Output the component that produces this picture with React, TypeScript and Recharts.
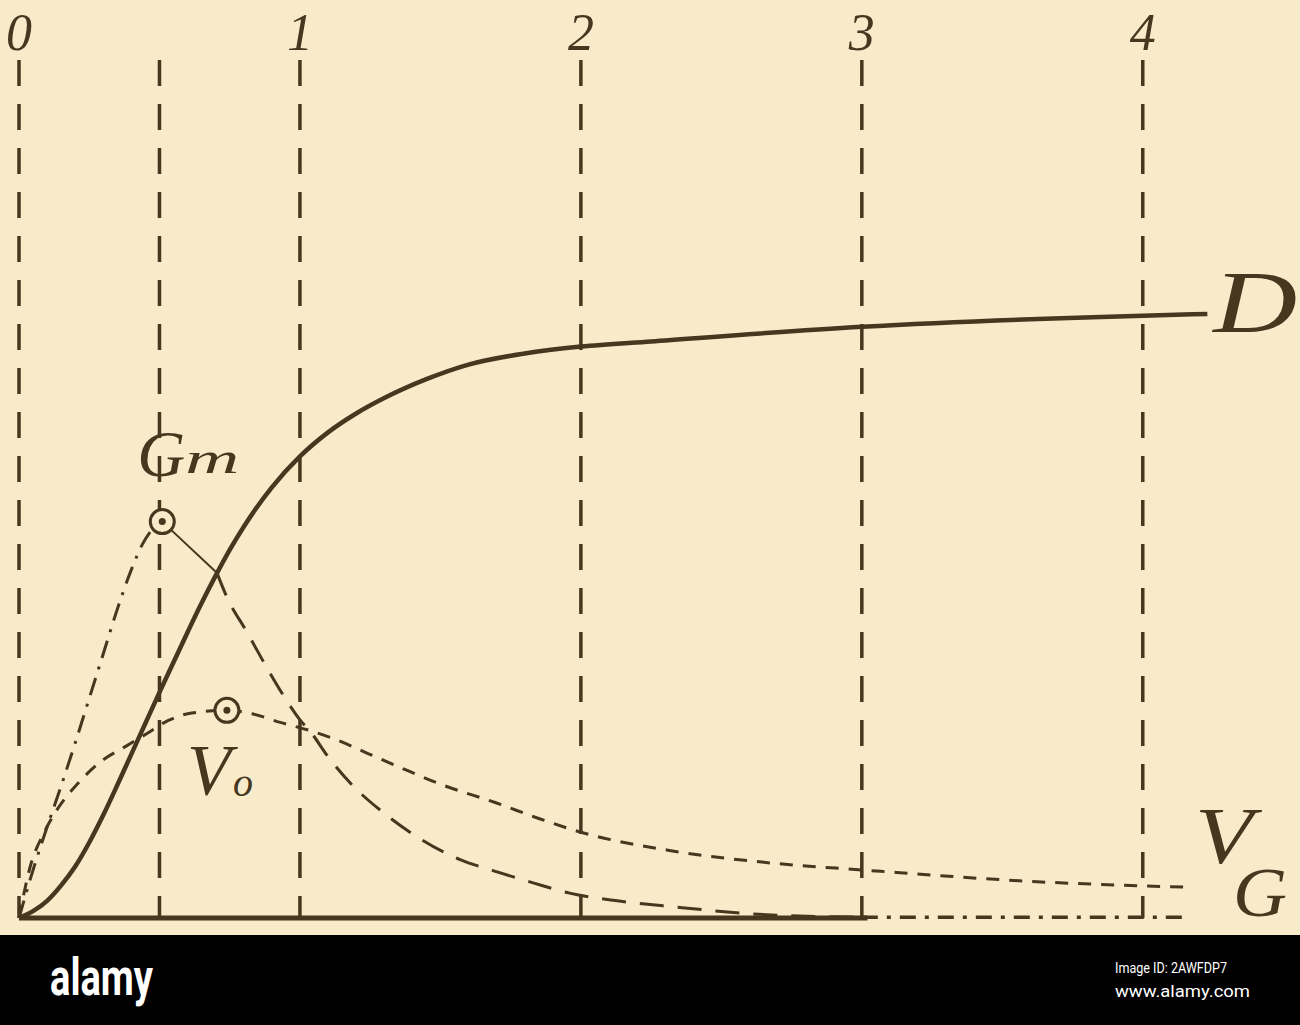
import { LineChart, Line, XAxis, YAxis, ReferenceLine, ReferenceDot } from "recharts";

const INK = "#46371f";
const PAPER = "#f8ebca";
const SERIF = "'Liberation Serif', 'DejaVu Serif', serif";

// numbered verticals along the top, plus the unlabelled one at 0.5
const tickValues = [0, 1, 2, 3, 4];
const tickLabels = ["0", "1", "2", "3", "4"];
const verticalsX = [0, 0.5, 1, 2, 3, 4];

// D — solid curve
const dCurve = [
  { x: 0, y: 0 }, { x: 0.05, y: 0.8 }, { x: 0.1, y: 2.0 }, { x: 0.15, y: 3.8 },
  { x: 0.2, y: 6.0 }, { x: 0.25, y: 8.8 }, { x: 0.3, y: 12.0 }, { x: 0.35, y: 15.5 },
  { x: 0.4, y: 19.1 }, { x: 0.45, y: 22.7 }, { x: 0.5, y: 26.3 }, { x: 0.55, y: 29.8 },
  { x: 0.6, y: 33.3 }, { x: 0.65, y: 36.7 }, { x: 0.7, y: 39.9 }, { x: 0.75, y: 42.9 },
  { x: 0.8, y: 45.6 }, { x: 0.9, y: 50.2 }, { x: 1.0, y: 53.8 }, { x: 1.1, y: 56.6 },
  { x: 1.2, y: 58.8 }, { x: 1.3, y: 60.6 }, { x: 1.45, y: 62.8 }, { x: 1.6, y: 64.5 },
  { x: 1.8, y: 65.8 }, { x: 2.0, y: 66.6 }, { x: 2.25, y: 67.2 }, { x: 3.0, y: 68.9 },
  { x: 4.0, y: 70.2 }, { x: 4.23, y: 70.4 },
];

// G — rising part (dash-dot) up to the maximum Gm
const gRise = [
  { x: 0, y: 0 }, { x: 0.05, y: 5.6 }, { x: 0.1, y: 10.6 }, { x: 0.15, y: 15.4 },
  { x: 0.2, y: 20.4 }, { x: 0.25, y: 25.6 }, { x: 0.3, y: 30.8 }, { x: 0.35, y: 36.0 },
  { x: 0.4, y: 40.6 }, { x: 0.44, y: 43.6 }, { x: 0.48, y: 45.5 }, { x: 0.51, y: 46.2 },
];
// thin stroke from Gm down to the D curve
const gLink = [{ x: 0.51, y: 46.2 }, { x: 0.705, y: 40.2 }];
// G — falling part (long dashes)
const gFall = [
  { x: 0.705, y: 40.2 }, { x: 0.74, y: 37.4 }, { x: 0.81, y: 33.4 }, { x: 0.88, y: 29.3 },
  { x: 0.94, y: 26.0 }, { x: 1.0, y: 23.1 }, { x: 1.04, y: 21.6 }, { x: 1.1, y: 18.8 },
  { x: 1.18, y: 15.7 }, { x: 1.3, y: 12.2 }, { x: 1.42, y: 9.4 }, { x: 1.57, y: 6.8 },
  { x: 1.69, y: 5.5 }, { x: 1.83, y: 4.1 }, { x: 1.96, y: 2.9 }, { x: 2.13, y: 2.0 },
  { x: 2.33, y: 1.3 }, { x: 2.68, y: 0.35 }, { x: 3.0, y: 0.1 },
];
// G — tail along the axis (dash-dot)
const gTail = [{ x: 3.0, y: 0.1 }, { x: 4.14, y: 0.1 }];

// V — short dashes, maximum Vo
const vCurve = [
  { x: 0, y: 0 }, { x: 0.04, y: 6.0 }, { x: 0.09, y: 10.0 }, { x: 0.135, y: 12.6 },
  { x: 0.21, y: 15.7 }, { x: 0.29, y: 18.2 }, { x: 0.38, y: 20.0 }, { x: 0.46, y: 21.6 },
  { x: 0.53, y: 23.0 }, { x: 0.6, y: 23.8 }, { x: 0.74, y: 24.2 }, { x: 0.83, y: 23.8 },
  { x: 0.93, y: 22.8 }, { x: 1.04, y: 21.8 }, { x: 1.12, y: 20.9 }, { x: 1.24, y: 19.2 },
  { x: 1.36, y: 17.5 }, { x: 1.5, y: 15.6 }, { x: 1.7, y: 13.4 }, { x: 1.85, y: 11.6 },
  { x: 2.0, y: 10.0 }, { x: 2.31, y: 7.9 }, { x: 2.68, y: 6.4 }, { x: 3.0, y: 5.6 },
  { x: 3.64, y: 4.2 }, { x: 4.15, y: 3.6 },
];

const gMax = gRise[gRise.length - 1];
const vMax = vCurve[10];
const dEnd = dCurve[dCurve.length - 1];
const vEnd = vCurve[vCurve.length - 1];
const gEnd = gTail[gTail.length - 1];

function TopTick({ x, y, payload }: any) {
  const i = tickValues.indexOf(payload.value);
  return (
    <text x={x} y={y} dy={-2} textAnchor="middle" fill={INK}
      fontFamily={SERIF} fontStyle="italic" fontSize={52}>
      {tickLabels[i]}
    </text>
  );
}

// open circle with a centre dot, and its label
function marker(label: "Gm" | "Vo") {
  return ({ cx, cy }: any) => (
    <g>
      <circle cx={cx} cy={cy} r={12} fill={PAPER} stroke={INK} strokeWidth={3} />
      <circle cx={cx} cy={cy} r={3.5} fill={INK} />
      {label === "Gm" ? (
        <g fill={INK} fontFamily={SERIF} fontStyle="italic">
          <text x={cx - 25} y={cy - 46} fontSize={66} textLength={48}
            lengthAdjust="spacingAndGlyphs">G</text>
          <text x={cx + 23} y={cy - 49} fontSize={44} textLength={54}
            lengthAdjust="spacingAndGlyphs">m</text>
        </g>
      ) : (
        <g fill={INK} fontFamily={SERIF} fontStyle="italic">
          <text x={cx - 40} y={cy + 84} fontSize={72} textLength={44}
            lengthAdjust="spacingAndGlyphs">V</text>
          <text x={cx + 6} y={cy + 86} fontSize={40}>o</text>
        </g>
      )}
    </g>
  );
}

function endLabel(text: string, dx: number, dy: number, size: number, width: number) {
  return ({ cx, cy }: any) => (
    <text x={cx + dx} y={cy + dy} fill={INK} fontFamily={SERIF} fontStyle="italic"
      fontSize={size} textLength={width} lengthAdjust="spacingAndGlyphs">{text}</text>
  );
}

export default function App() {
  return (
    <div style={{ width: 1300, height: 1025, background: PAPER }}>
      <style>{"body{margin:0}"}</style>
      <LineChart width={1300} height={935} margin={{ top: 10, right: 87, bottom: 17, left: 19 }}>
        <XAxis dataKey="x" type="number" orientation="top" domain={[0, 4.25]}
          ticks={tickValues} axisLine={false} tickLine={false} height={50}
          tick={<TopTick />} allowDuplicatedCategory={false} />
        <YAxis type="number" domain={[0, 100]} hide />

        {verticalsX.map((v) => (
          <ReferenceLine key={v} x={v} stroke={INK} strokeWidth={3.5} strokeDasharray="26 18" />
        ))}
        <ReferenceLine segment={[{ x: 0, y: 0 }, { x: 3.02, y: 0 }]} stroke={INK} strokeWidth={5} />

        <Line data={vCurve} dataKey="y" type="monotone" stroke={INK} strokeWidth={3}
          strokeDasharray="13 10" dot={false} isAnimationActive={false} />
        <Line data={gRise} dataKey="y" type="monotone" stroke={INK} strokeWidth={3}
          strokeDasharray="18 9 3 9" dot={false} isAnimationActive={false} />
        <Line data={gLink} dataKey="y" type="linear" stroke={INK} strokeWidth={2}
          dot={false} isAnimationActive={false} />
        <Line data={gFall} dataKey="y" type="monotone" stroke={INK} strokeWidth={3}
          strokeDasharray="24 14" dot={false} isAnimationActive={false} />
        <Line data={gTail} dataKey="y" type="linear" stroke={INK} strokeWidth={3.5}
          strokeDasharray="16 9 4 9" dot={false} isAnimationActive={false} />
        <Line data={dCurve} dataKey="y" type="monotone" stroke={INK} strokeWidth={4.5}
          dot={false} isAnimationActive={false} />

        <ReferenceDot x={gMax.x} y={gMax.y} r={12} shape={marker("Gm")} />
        <ReferenceDot x={vMax.x} y={vMax.y} r={12} shape={marker("Vo")} />
        <ReferenceDot x={dEnd.x} y={dEnd.y} r={0} shape={endLabel("D", 6, 18, 88, 84)} />
        <ReferenceDot x={vEnd.x} y={vEnd.y} r={0} shape={endLabel("V", 10, -24, 80, 58)} />
        <ReferenceDot x={gEnd.x} y={gEnd.y} r={0} shape={endLabel("G", 51, -1, 70, 54)} />
      </LineChart>
      <svg width={1300} height={90} style={{ display: "block", background: "#000" }}>
        <text x={50} y={60} fill="#fff" fontFamily="Roboto, sans-serif" fontWeight="bold"
          fontSize={52} textLength={103} lengthAdjust="spacingAndGlyphs">alamy</text>
        <text x={1115} y={38} fill="#fff" fontFamily="Roboto, sans-serif"
          fontSize={14} textLength={112} lengthAdjust="spacingAndGlyphs">Image ID: 2AWFDP7</text>
        <text x={1115} y={62} fill="#fff" fontFamily="Roboto, sans-serif"
          fontSize={17} textLength={135} lengthAdjust="spacingAndGlyphs">www.alamy.com</text>
      </svg>
    </div>
  );
}
